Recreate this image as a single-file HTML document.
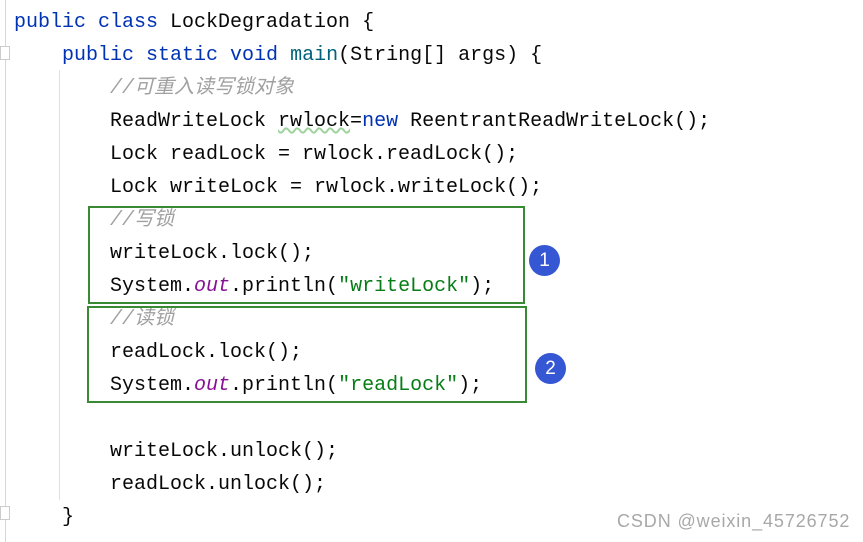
<!DOCTYPE html>
<html><head><meta charset="utf-8"><style>
html,body{margin:0;padding:0;background:#fff;width:863px;height:542px;overflow:hidden;position:relative}
.l{position:absolute;font-family:"Liberation Mono","Noto Sans CJK SC",monospace;font-size:20px;line-height:24px;white-space:pre;color:#080808}
.k{color:#0033b3}.m{color:#00627a}.c{color:#a0a0a0;font-style:italic}.s{color:#067d17}.o{color:#871094;font-style:italic}
.box{position:absolute;border:2px solid #3a8a35;box-sizing:border-box}
.n{position:absolute;width:31px;height:31px;border-radius:50%;background:#3557d4;color:#fff;font-family:"Liberation Sans",sans-serif;font-size:19px;line-height:31px;text-align:center}
.g{position:absolute;background:#e0e0e0;width:1px}
</style></head><body>
<div class="g" style="left:5px;top:0;height:542px;background:#d8d8d8"></div>
<div style="position:absolute;left:0;top:46px;width:10px;height:14px;background:#fff;border:1px solid #ccc;box-sizing:border-box"></div>
<div style="position:absolute;left:0;top:506px;width:10px;height:14px;background:#fff;border:1px solid #ccc;box-sizing:border-box"></div>
<div class="g" style="left:59px;top:70px;height:430px"></div>
<div class="l" style="left:14px;top:11px"><span class="k">public class</span> LockDegradation {</div>
<div class="l" style="left:62px;top:44px"><span class="k">public static void</span> <span class="m">main</span>(String[] args) {</div>
<div class="l" style="left:110px;top:77px"><span class="c">//可重入读写锁对象</span></div>
<div class="l" style="left:110px;top:110px">ReadWriteLock <span style="text-decoration:underline wavy #9fd49f">rwlock</span>=<span class="k">new</span> ReentrantReadWriteLock();</div>
<div class="l" style="left:110px;top:143px">Lock readLock = rwlock.readLock();</div>
<div class="l" style="left:110px;top:176px">Lock writeLock = rwlock.writeLock();</div>
<div class="l" style="left:110px;top:209px"><span class="c">//写锁</span></div>
<div class="l" style="left:110px;top:242px">writeLock.lock();</div>
<div class="l" style="left:110px;top:275px">System.<span class="o">out</span>.println(<span class="s">"writeLock"</span>);</div>
<div class="l" style="left:110px;top:308px"><span class="c">//读锁</span></div>
<div class="l" style="left:110px;top:341px">readLock.lock();</div>
<div class="l" style="left:110px;top:374px">System.<span class="o">out</span>.println(<span class="s">"readLock"</span>);</div>
<div class="l" style="left:110px;top:440px">writeLock.unlock();</div>
<div class="l" style="left:110px;top:473px">readLock.unlock();</div>
<div class="l" style="left:62px;top:506px">}</div>
<div class="box" style="left:88px;top:206px;width:437px;height:98px"></div>
<div class="box" style="left:87px;top:306px;width:440px;height:97px"></div>
<div class="n" style="left:529px;top:245px">1</div>
<div class="n" style="left:535px;top:353px">2</div>
<div style="position:absolute;left:617px;top:511px;font-family:'Liberation Sans',sans-serif;font-size:18px;color:#a8a8a8;white-space:nowrap;letter-spacing:0.9px">CSDN @weixin_45726752</div>
</body></html>
